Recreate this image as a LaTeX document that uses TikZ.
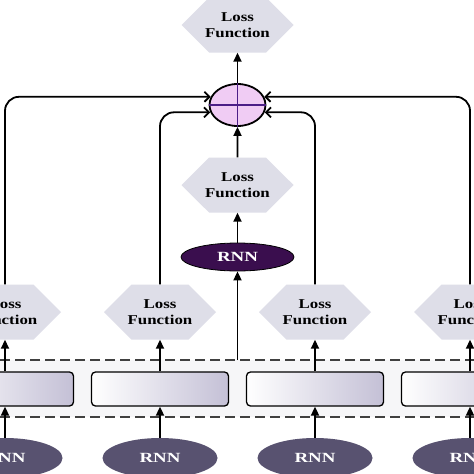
\documentclass[tikz,border=0pt]{standalone}
\usepackage{fontspec}
\setmainfont{Liberation Serif}
\newfontfamily\lffont[FakeStretch=1.25]{Liberation Serif}
\newfontfamily\rnnfont[FakeStretch=1.35]{Liberation Serif}
\usetikzlibrary{shapes.misc,shapes.geometric,arrows.meta}
\definecolor{lfgray}{RGB}{222,222,232}
\definecolor{pinkfill}{RGB}{240,204,244}
\definecolor{crosspurple}{RGB}{75,30,135}
\definecolor{darkrnn}{RGB}{58,14,78}
\definecolor{grayrnn}{RGB}{88,82,112}
\definecolor{rectright}{RGB}{196,192,214}
\definecolor{bandgray}{RGB}{246,246,248}
\tikzset{
  lossfn/.style={chamfered rectangle, chamfered rectangle xsep=20pt, chamfered rectangle ysep=15pt,
    minimum width=112pt, minimum height=45pt, inner sep=0pt, fill=lfgray, align=center,
    font=\lffont\bfseries\fontsize{13.5}{16}\selectfont},
  rnnbottom/.style={ellipse, minimum width=115pt, minimum height=40pt, inner sep=0pt, fill=grayrnn,
    text=white, font=\rnnfont\bfseries\fontsize{14}{16}\selectfont},
  rnntop/.style={ellipse, minimum width=113pt, minimum height=28pt, inner sep=0pt, fill=darkrnn,
    draw=black, line width=0.8pt, text=white, font=\rnnfont\bfseries\fontsize{14}{16}\selectfont},
  layerbox/.style={rectangle, rounded corners=4pt, minimum width=137pt, minimum height=34pt,
    draw=black, line width=1.3pt, left color=white, right color=rectright},
  sumnode/.style={ellipse, minimum width=56pt, minimum height=42pt, inner sep=0pt, fill=pinkfill,
    draw=black, line width=1.8pt},
  arr/.style={line width=1.8pt, -{Triangle[length=9pt,width=8pt]}},
  barb/.style={line width=1.8pt, rounded corners=14pt, -{Straight Barb[length=5pt,width=10pt]}},
  busline/.style={dashed, dash pattern=on 10pt off 5pt, line width=1.3pt, draw=black!75}
}
\begin{document}
\begin{tikzpicture}[x=1pt,y=-1pt]
\useasboundingbox (0,0) rectangle (474,474);
\clip (0,0) rectangle (474,474);
\fill[white] (0,0) rectangle (474,474);
% band
\fill[bandgray] (0,360) rectangle (474,417);
\draw[busline] (0,360) -- (474,360);
\draw[busline] (0,417) -- (474,417);
\coordinate (bustop) at (237.5,360);

% nodes
\node[lossfn] (lftop) at (237.5,25) {Loss\\Function};
\node[sumnode] (plus) at (237.5,105) {};
\draw[crosspurple, line width=1.5pt] (plus.north) -- (plus.south) (plus.west) -- (plus.east);
\node[lossfn] (lfmid) at (237.5,185) {Loss\\Function};
\node[rnntop] (rnnmid) at (237.5,257) {RNN};

\foreach \i/\x in {1/5,2/160,3/315,4/470}{
  \node[lossfn] (lf\i) at (\x,312) {Loss\\Function};
  \node[layerbox] (box\i) at (\x,389) {};
  \node[rnnbottom] (rnn\i) at (\x,458) {RNN};
  \draw[arr] (rnn\i) -- (box\i);
  \draw[arr] (box\i) -- (lf\i);
}

% central column
\draw[arr] (bustop) -- (rnnmid);
\draw[arr] (rnnmid) -- (lfmid);
\draw[arr] (lfmid) -- (plus);
\draw[arr] (plus) -- (lftop);

% side inputs to sum
\draw[barb] (lf1.north) |- (plus.163);
\draw[barb] (lf2.north) |- (plus.195);
\draw[barb] (lf3.north) |- (plus.345);
\draw[barb] (lf4.north) |- (plus.17);
\end{tikzpicture}
\end{document}
